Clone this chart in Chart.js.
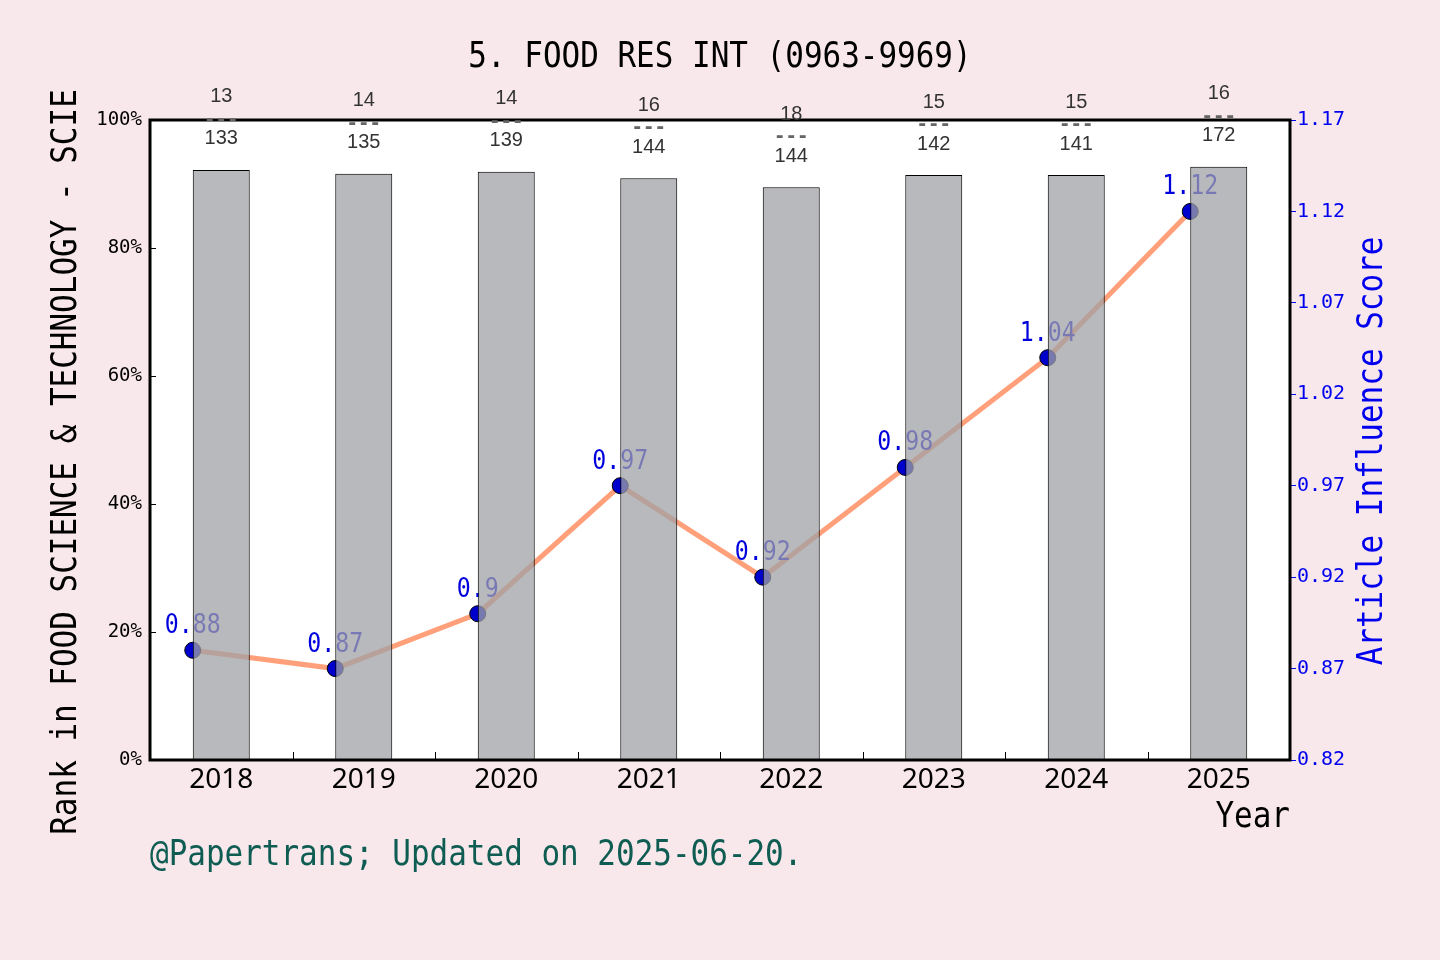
<!DOCTYPE html>
<html>
<head>
<meta charset="utf-8">
<script src="https://cdn.jsdelivr.net/npm/chart.js@4"></script>
<style>
  html, body { margin: 0; padding: 0; background: #f8e8ec; }
  canvas { display: block; }
</style>
</head>
<body>
<canvas id="chart" width="1440" height="960"></canvas>
<script>
const years = ['2018', '2019', '2020', '2021', '2022', '2023', '2024', '2025'];
const rankPercent = [92.2, 91.6, 91.9, 90.9, 89.5, 91.4, 91.4, 92.7];
const rankPos = [13, 14, 14, 16, 18, 15, 15, 16];
const rankTotal = [133, 135, 139, 144, 144, 142, 141, 172];
const aiScore = [0.88, 0.87, 0.9, 0.97, 0.92, 0.98, 1.04, 1.12];
const leftTicks = [0, 20, 40, 60, 80, 100];

const MONO = '"DejaVu Sans Mono", "Liberation Mono", monospace';
const BG = '#f8e8ec';

// narrow-ish mono text, closer to the half-width CJK font of the original
function narrowText(ctx, text, x, y, size, align, rot) {
  ctx.save();
  ctx.translate(x, y);
  if (rot) ctx.rotate(rot);
  ctx.scale(0.86, 1);
  ctx.font = size + 'px ' + MONO;
  ctx.textAlign = align;
  ctx.textBaseline = 'middle';
  ctx.fillText(text, 0, 0);
  ctx.restore();
}

const decor = {
  id: 'decor',
  beforeDraw(chart) {
    const {ctx, chartArea: a} = chart;
    ctx.save();
    ctx.fillStyle = BG;
    ctx.fillRect(0, 0, chart.width, chart.height);
    ctx.fillStyle = '#fff';
    ctx.fillRect(a.left, a.top, a.right - a.left, a.bottom - a.top);
    ctx.restore();
  },
  afterDatasetDraw(chart, args) {
    // score labels go under the bars
    if (args.index !== 1) return;
    const ctx = chart.ctx;
    ctx.save();
    ctx.fillStyle = '#0000dd';
    args.meta.data.forEach((pt, i) => {
      narrowText(ctx, String(aiScore[i]), pt.x, pt.y - 24, 27, 'center');
    });
    ctx.restore();
  },
  afterDraw(chart) {
    const {ctx, chartArea: a} = chart;
    const y = chart.scales.y, x = chart.scales.x;
    ctx.save();

    // inward ticks on the left axis
    ctx.strokeStyle = '#000';
    ctx.lineWidth = 1;
    leftTicks.forEach(v => {
      const py = Math.round(y.getPixelForValue(v)) + 0.5;
      ctx.beginPath();
      ctx.moveTo(a.left, py);
      ctx.lineTo(a.left + 6, py);
      ctx.stroke();
    });
    // minor ticks between categories
    for (let i = 1; i < years.length; i++) {
      const px = Math.round((x.getPixelForValue(i - 1) + x.getPixelForValue(i)) / 2) + 0.5;
      ctx.beginPath();
      ctx.moveTo(px, a.bottom);
      ctx.lineTo(px, a.bottom - 8);
      ctx.stroke();
    }

    // plot frame
    ctx.lineWidth = 3;
    ctx.strokeRect(a.left, a.top, a.right - a.left, a.bottom - a.top);

    // rank fractions above the bars
    const bars = chart.getDatasetMeta(0).data;
    ctx.textAlign = 'center';
    ctx.textBaseline = 'middle';
    bars.forEach((b, i) => {
      ctx.font = '20px "Liberation Sans", Arial, sans-serif';
      ctx.fillStyle = '#333';
      ctx.fillText(String(rankPos[i]), b.x, b.y - 73);
      ctx.fillText(String(rankTotal[i]), b.x, b.y - 31);
      ctx.font = 'bold 19px ' + MONO;
      ctx.fillStyle = '#666';
      ctx.fillText('---', b.x, b.y - 50);
    });

    // titles
    ctx.fillStyle = '#000';
    narrowText(ctx, '5. FOOD RES INT (0963-9969)', 720, 58, 36, 'center');
    narrowText(ctx, 'Year', 1290, 818, 36, 'right');
    narrowText(ctx, 'Rank in FOOD SCIENCE & TECHNOLOGY - SCIE', 67, 462, 36, 'center', -Math.PI / 2);
    ctx.fillStyle = '#0000ee';
    narrowText(ctx, 'Article Influence Score', 1373, 451, 36, 'center', -Math.PI / 2);
    ctx.fillStyle = '#0e5c52';
    narrowText(ctx, '@Papertrans; Updated on 2025-06-20.', 150, 856, 36, 'left');
    ctx.restore();
  }
};

new Chart(document.getElementById('chart'), {
  data: {
    labels: years,
    datasets: [
      {
        type: 'bar',
        data: rankPercent,
        yAxisID: 'y',
        xAxisID: 'x',
        order: 0,
        grouped: false,
        backgroundColor: 'rgba(160,162,165,0.75)',
        borderColor: '#000',
        borderWidth: 1,
        barPercentage: 0.4,
        categoryPercentage: 1
      },
      {
        type: 'line',
        data: aiScore.map((v, i) => ({x: i, y: v})),
        yAxisID: 'y2',
        xAxisID: 'x2',
        order: 1,
        borderColor: '#ffa07a',
        borderWidth: 5,
        tension: 0,
        pointRadius: 8,
        pointBackgroundColor: '#0000cc',
        pointBorderColor: '#000',
        pointBorderWidth: 1
      }
    ]
  },
  options: {
    responsive: false,
    devicePixelRatio: 1,
    animation: false,
    layout: {padding: {top: 120, left: 0, right: 0, bottom: 0}},
    plugins: {legend: {display: false}, tooltip: {enabled: false}},
    scales: {
      x: {
        type: 'category',
        offset: true,
        grid: {display: false},
        border: {display: false},
        ticks: {
          color: '#000',
          padding: -5,
          font: {family: '"Noto Sans", "DejaVu Sans", sans-serif', size: 28}
        },
        afterFit(s) { s.height = 200; }
      },
      x2: {
        type: 'linear',
        display: false,
        min: -0.3,
        max: 7.7
      },
      y: {
        position: 'left',
        min: 0,
        max: 100,
        ticks: {
          stepSize: 20,
          color: '#000',
          padding: 0,
          font: {family: MONO, size: 19},
          callback: v => v + '%'
        },
        grid: {display: false},
        border: {display: false},
        afterFit(s) { s.width = 150; }
      },
      y2: {
        position: 'right',
        min: 0.82,
        max: 1.17,
        ticks: {
          stepSize: 0.05,
          color: '#0000ee',
          padding: 1,
          font: {family: MONO, size: 20},
          callback: v => v.toFixed(2)
        },
        grid: {drawOnChartArea: false, color: '#0000ee', tickLength: 6},
        border: {display: false},
        afterFit(s) { s.width = 150; }
      }
    }
  },
  plugins: [decor]
});
</script>
</body>
</html>
